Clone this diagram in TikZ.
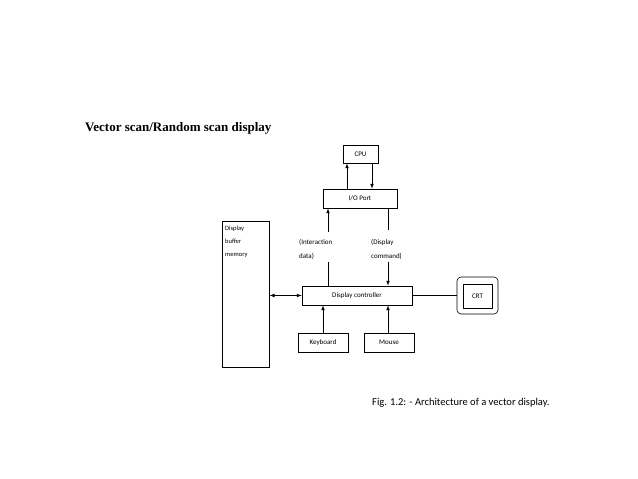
\documentclass[tikz,border=0pt]{standalone}
\usepackage{fontspec}
\setmainfont{Carlito}
\newfontfamily\titlefont{Liberation Serif}
\begin{document}
\begin{tikzpicture}[x=1pt,y=-1pt,
  bx/.style={draw,line width=0.6pt,inner sep=0pt,font=\fontsize{7}{8}\selectfont},
  lbl/.style={anchor=west,inner sep=0pt,font=\fontsize{7}{8}\selectfont,align=left},
  ar/.style={-latex,line width=0.7pt},
  ln/.style={line width=0.6pt}]
\useasboundingbox (0,0) rectangle (638,479);
\node[anchor=west,inner sep=0pt,font=\titlefont\bfseries\fontsize{13}{15}\selectfont] (title) at (85,128) {Vector scan/Random scan display};
\node[bx,minimum width=35,minimum height=18] (cpu) at (360.5,154) {CPU};
\node[bx,minimum width=74,minimum height=19] (io) at (360,198.5) {I/O Port};
\node[bx,minimum width=47,minimum height=146,anchor=north west] (mem) at (222,221) {};
\node[lbl,anchor=north west,font=\fontsize{6.5}{13}\selectfont] (memt) at (225,226) {Display\\buffer\\memory};
\node[bx,minimum width=110,minimum height=19] (dc) at (357,295.5) {Display controller};
\node[draw,line width=0.6pt,rounded corners=4pt,minimum width=41,minimum height=37] (crto) at (477.5,295.5) {};
\node[bx,minimum width=29,minimum height=24] (crt) at (477.5,296) {CRT};
\node[bx,minimum width=50,minimum height=19] (kb) at (323,342.5) {Keyboard};
\node[bx,minimum width=50,minimum height=19] (mouse) at (389,342.5) {Mouse};
\node[lbl,font=\fontsize{7}{14}\selectfont] (ia) at (299,249) {(Interaction\\data)};
\node[lbl,font=\fontsize{7}{14}\selectfont] (dcm) at (371,249) {(Display\\command)};
\coordinate (a1) at (328,232);
\coordinate (a2) at (328,262);
\coordinate (b1) at (388,230);
\coordinate (b2) at (388,262);
\draw[ar] (io.north -| 347,0) -- (cpu.south -| 347,0);
\draw[ar] (cpu.south -| 372,0) -- (io.north -| 372,0);
\draw[ar] (a1) -- (io.south -| a1);
\draw[ln] (a2) -- (dc.north -| a2);
\draw[ln] (io.south -| b1) -- (b1);
\draw[ar] (b2) -- (dc.north -| b2);
\draw[latex-latex,line width=0.7pt] (mem.east |- dc) -- (dc.west);
\draw[ln] (dc.east) -- (crto.west);
\draw[ar] (kb.north) -- (dc.south -| kb.north);
\draw[ar] (mouse.north -| 388,0) -- (dc.south -| 388,0);
\node[anchor=west,inner sep=0pt,font=\fontsize{10.5}{12}\selectfont] (cap) at (372,403) {Fig. 1.2: - Architecture of a vector display.};
\end{tikzpicture}
\end{document}
